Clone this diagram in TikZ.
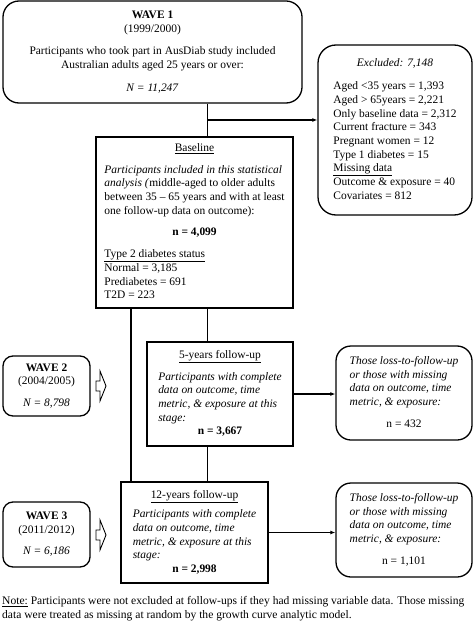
\documentclass[tikz,border=0pt]{standalone}
\usepackage{fontspec}
\setmainfont{Liberation Serif}
\usetikzlibrary{arrows.meta}
\begin{document}
\begin{tikzpicture}[x=1bp,y=-1bp,
  every node/.style={font=\fontsize{11.5}{13.7}\selectfont},
  rbox/.style={draw, line width=1.3bp, rounded corners=#1, inner sep=0pt, align=center},
  rbox/.default=15bp,
  sbox/.style={draw, line width=1.3bp, inner sep=0pt, align=center},
  conn/.style={line width=1.3bp},
  arr/.style={line width=1.3bp, -{Latex[length=5bp,width=4bp]}},
  hollow/.style={draw, line width=0.9bp, fill=white, line join=miter}
]
\useasboundingbox (0,0) rectangle (474,630);

% WAVE 1
\node[rbox=16bp, minimum width=299bp, minimum height=102bp] (w1) at (152.5,52) {%
\begin{tabular}{@{}c@{}}\textbf{WAVE 1}\\ (1999/2000)\\[9bp]
Participants who took part in AusDiab study included\\
Australian adults aged 25 years or over:\\[9bp]
\textit{N = 11,247}\end{tabular}};

% Excluded
\node[rbox=18bp, minimum width=154bp, minimum height=170bp] (excl) at (395,130) {%
\begin{tabular}{@{}l@{}}\multicolumn{1}{@{}c@{}}{\textit{Excluded: 7,148}}\\[10bp]
Aged <35 years = 1,393\\
Aged > 65years = 2,221\\
Only baseline data = 2,312\\
Current fracture = 343\\
Pregnant women = 12\\
Type 1 diabetes = 15\\
\underline{Missing data}\\
Outcome \& exposure = 40\\
Covariates = 812\end{tabular}};

% Baseline
\node[sbox, minimum width=197bp, minimum height=171bp] (base) at (194.5,222.5) {%
\begin{tabular}{@{}l@{}}\multicolumn{1}{@{}c@{}}{\underline{Baseline}}\\[8bp]
\textit{Participants included in this statistical}\\
\textit{analysis (}middle-aged to older adults\\
between 35 -- 65 years and with at least\\
one follow-up data on outcome):\\[8bp]
\multicolumn{1}{@{}c@{}}{\textbf{n = 4,099}}\\[8bp]
\underline{Type 2 diabetes status}\\
Normal = 3,185\\
Prediabetes = 691\\
T2D = 223\end{tabular}};

% 5-years follow-up
\node[sbox, minimum width=146bp, minimum height=104bp] (fu5) at (220,394) {%
\begin{tabular}{@{}l@{}}\multicolumn{1}{@{}c@{}}{\underline{5-years follow-up}}\\[8bp]
\textit{Participants with complete}\\
\textit{data on outcome, time}\\
\textit{metric, \& exposure at this}\\
\textit{stage:}\\
\multicolumn{1}{@{}c@{}}{\textbf{n = 3,667}}\end{tabular}};

% 12-years follow-up
\node[sbox, minimum width=147bp, minimum height=101bp] (fu12) at (194.5,532.5) {%
\begin{tabular}{@{}l@{}}\multicolumn{1}{@{}c@{}}{\underline{12-years follow-up}}\\[6bp]
\textit{Participants with complete}\\
\textit{data on outcome, time}\\
\textit{metric, \& exposure at this}\\
\textit{stage:}\\
\multicolumn{1}{@{}c@{}}{\textbf{n = 2,998}}\end{tabular}};

% Right boxes
\node[rbox=15bp, minimum width=136bp, minimum height=94bp] (r2) at (404,393) {%
\begin{tabular}{@{}l@{}}\textit{Those loss-to-follow-up}\\
\textit{or those with missing}\\
\textit{data on outcome, time}\\
\textit{metric, \& exposure:}\\[8bp]
\multicolumn{1}{@{}c@{}}{n = 432}\end{tabular}};

\node[rbox=15bp, minimum width=136bp, minimum height=94bp] (r3) at (404,530) {%
\begin{tabular}{@{}l@{}}\textit{Those loss-to-follow-up}\\
\textit{or those with missing}\\
\textit{data on outcome, time}\\
\textit{metric, \& exposure:}\\[8bp]
\multicolumn{1}{@{}c@{}}{n = 1,101}\end{tabular}};

% WAVE 2 / WAVE 3
\node[rbox=10bp, minimum width=87bp, minimum height=60bp] (w2) at (46.5,386) {%
\begin{tabular}{@{}c@{}}\textbf{WAVE 2}\\ (2004/2005)\\[8bp] \textit{N = 8,798}\end{tabular}};
\node[rbox=10bp, minimum width=87bp, minimum height=65bp] (w3) at (46.5,534.5) {%
\begin{tabular}{@{}c@{}}\textbf{WAVE 3}\\ (2011/2012)\\[8bp] \textit{N = 6,186}\end{tabular}};

% hollow arrows
\path[hollow] (96,381)--(100,381)--(100,371)--(106,386)--(100,401)--(100,391)--(96,391)--cycle;
\path[hollow] (96,530)--(100,530)--(100,520)--(106,535)--(100,550)--(100,540)--(96,540)--cycle;

% Connectors
\coordinate (j1) at (207.5,120);
\coordinate (xa) at (207.5,0);
\coordinate (xb) at (131,0);
\draw[conn] (w1.south -| xa) -- (base.north -| xa);
\draw[arr] (j1) -- (excl.west |- j1);
\draw[conn] (base.south -| xa) -- (fu5.north -| xa);
\draw[conn] (base.south -| xb) -- (fu12.north -| xb);
\draw[conn] (fu5.south -| xa) -- (fu12.north -| xa);
\draw[arr] (fu5.east) -- (r2.west |- fu5.east);
\draw[arr] (fu12.east) -- (r3.west |- fu12.east);

% Note
\node[anchor=north west, inner sep=0pt, align=left, font=\fontsize{11.6}{14}\selectfont] (note) at (2,596) {%
\underline{Note:} Participants were not excluded at follow-ups if they had missing variable data. Those missing\\
data were treated as missing at random by the growth curve analytic model.};
\end{tikzpicture}
\end{document}
